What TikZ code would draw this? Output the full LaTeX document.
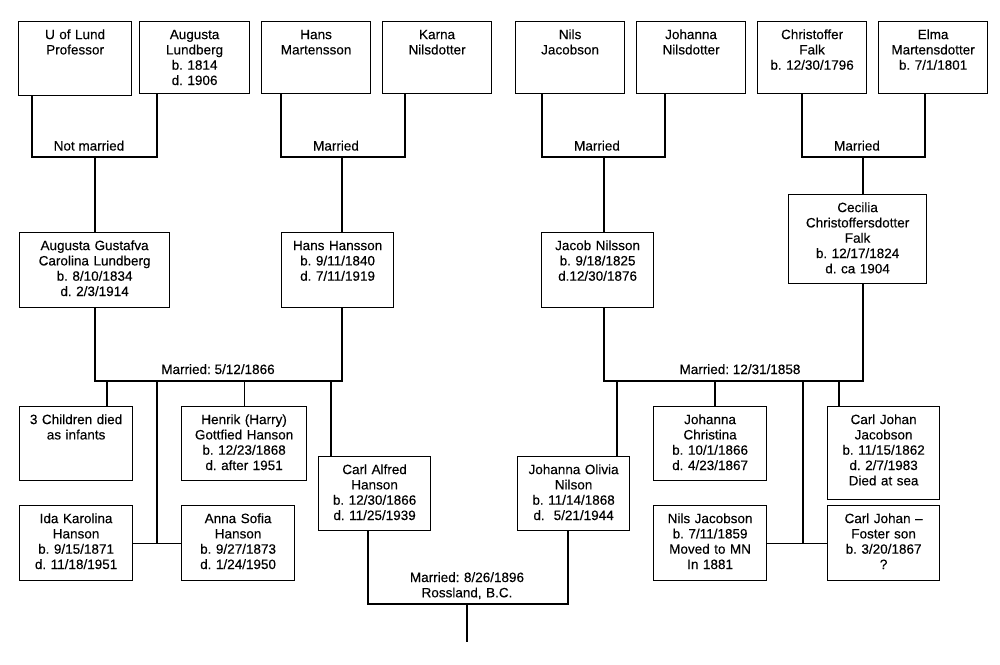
\documentclass[tikz,border=0pt]{standalone}
\usepackage{fontspec}
\setmainfont{Liberation Sans}[FakeBold=0.3]
\begin{document}
\frenchspacing
\begin{tikzpicture}[x=1pt,y=-1pt,
  pb/.style={draw, line width=1.2pt, anchor=north west, inner xsep=2pt, inner ysep=0pt, align=center, text height=17.5pt, font=\fontsize{13.5}{15.3}\selectfont},
  lbl/.style={anchor=base, inner sep=0pt, font=\fontsize{13.5}{15.3}\selectfont},
  ln/.style={line width=1.2pt}]
\useasboundingbox (0,0) rectangle (1000,664);
% top row
\node[pb, text width=109pt, text depth=56.5pt] (u) at (18,21) {U of Lund\\Professor};
\node[pb, text width=106pt, text depth=54.5pt] (al) at (139,21) {Augusta\\Lundberg\\b. 1814\\d. 1906};
\node[pb, text width=105pt, text depth=54.5pt] (hm) at (261,21) {Hans\\Martensson};
\node[pb, text width=105pt, text depth=54.5pt] (kn) at (382,21) {Karna\\Nilsdotter};
\node[pb, text width=105pt, text depth=54.5pt] (nj) at (515,21) {Nils\\Jacobson};
\node[pb, text width=105pt, text depth=54.5pt] (jn) at (636,21) {Johanna\\Nilsdotter};
\node[pb, text width=105pt, text depth=54.5pt] (cf) at (757,21) {Christoffer\\Falk\\b. 12/30/1796};
\node[pb, text width=105pt, text depth=54.5pt] (em) at (878,21) {Elma\\Martensdotter\\b. 7/1/1801};
% second row
\node[pb, text width=146pt, text depth=57.5pt] (ag) at (19,232) {Augusta Gustafva\\Carolina Lundberg\\b. 8/10/1834\\d. 2/3/1914};
\node[pb, text width=108pt, text depth=57.5pt] (hh) at (281,232) {Hans Hansson\\b. 9/11/1840\\d. 7/11/1919};
\node[pb, text width=108pt, text depth=57.5pt] (jb) at (541,232) {Jacob Nilsson\\b. 9/18/1825\\d.12/30/1876};
\node[pb, text width=134pt, text depth=71.5pt] (ce) at (788,194) {Cecilia\\Christoffersdotter\\Falk\\b. 12/17/1824\\d. ca 1904};
% children left
\node[pb, text width=109pt, text depth=56.5pt] (c3) at (19,406) {3 Children died\\as infants};
\node[pb, text width=121pt, text depth=56.5pt] (hk) at (181,406) {Henrik (Harry)\\Gottfied Hanson\\b. 12/23/1868\\d. after 1951};
\node[pb, text width=108pt, text depth=56.5pt] (ca) at (318,456) {Carl Alfred\\Hanson\\b. 12/30/1866\\d. 11/25/1939};
\node[pb, text width=109pt, text depth=57.5pt] (ida) at (19,505) {Ida Karolina\\Hanson\\b. 9/15/1871\\d. 11/18/1951};
\node[pb, text width=109pt, text depth=57.5pt] (an) at (181,505) {Anna Sofia\\Hanson\\b. 9/27/1873\\d. 1/24/1950};
% children right
\node[pb, text width=108pt, text depth=56.5pt] (jo) at (517,456) {Johanna Olivia\\Nilson\\b. 11/14/1868\\d.\ \ 5/21/1944};
\node[pb, text width=109pt, text depth=56.5pt] (jc) at (653,406) {Johanna\\Christina\\b. 10/1/1866\\d. 4/23/1867};
\node[pb, text width=108pt, text depth=75.5pt] (cj) at (827,406) {Carl Johan\\Jacobson\\b. 11/15/1862\\d. 2/7/1983\\Died at sea};
\node[pb, text width=109pt, text depth=57.5pt] (nb) at (653,505) {Nils Jacobson\\b. 7/11/1859\\Moved to MN\\In 1881};
\node[pb, text width=108pt, text depth=57.5pt] (fs) at (827,505) {Carl Johan --\\Foster son\\b. 3/20/1867\\?};
% junction coordinates
\coordinate (m1) at (95,157);
\coordinate (m2) at (342,157);
\coordinate (m3) at (604,157);
\coordinate (m4) at (863,157);
\coordinate (m5) at (218,381);
\coordinate (m6) at (740,381);
\coordinate (m7) at (467,604);
\coordinate (d1) at (107,381);
\coordinate (d2) at (157,381);
\coordinate (d4) at (331,381);
\coordinate (e1) at (617,381);
\coordinate (e2) at (715,381);
\coordinate (e3) at (803,381);
\coordinate (e4) at (839,381);
\coordinate (fin) at (467,642);
% parents connectors
\draw[ln] ([xshift=14pt]u.south west) |- (m1) -| ([xshift=18pt]al.south west);
\draw[ln] (m1) -- (m1 |- ag.north);
\draw[ln] ([xshift=20pt]hm.south west) |- (m2) -| ([xshift=23pt]kn.south west);
\draw[ln] (m2) -- (m2 |- hh.north);
\draw[ln] ([xshift=27pt]nj.south west) |- (m3) -| ([xshift=29pt]jn.south west);
\draw[ln] (m3) -- (m3 |- jb.north);
\draw[ln] ([xshift=45pt]cf.south west) |- (m4) -| ([xshift=47pt]em.south west);
\draw[ln] (m4) -- (m4 |- ce.north);
% marriage 1
\draw[ln] (m1 |- ag.south) |- (m5) -| (m2 |- hh.south);
\draw[ln] (d1) -- (d1 |- c3.north);
\draw[ln] (d2) -- (d2 |- ida.east);
\draw[ln] (ida.east) -- (an.west);
\draw[ln] (m5 -| hk.north) -- (hk.north);
\draw[ln] (d4) -- (d4 |- ca.north);
% marriage 2
\draw[ln] (m3 |- jb.south) |- (m6) -| (m4 |- ce.south);
\draw[ln] (e1) -- (e1 |- jo.north);
\draw[ln] (e2) -- (e2 |- jc.north);
\draw[ln] (e3) -- (e3 |- nb.east);
\draw[ln] (nb.east) -- (fs.west);
\draw[ln] (e4) -- (e4 |- cj.north);
% final marriage
\draw[ln] ([xshift=50pt]ca.south west) |- (m7) -| ([xshift=51pt]jo.south west);
\draw[ln] (m7) -- (fin);
% labels
\node[lbl] (t1) at (89,150.5) {Not married};
\node[lbl] (t2) at (336,150.5) {Married};
\node[lbl] (t3) at (597,150.5) {Married};
\node[lbl] (t4) at (857,150.5) {Married};
\node[lbl] (t5) at (218,374) {Married: 5/12/1866};
\node[lbl] (t6) at (740,374) {Married: 12/31/1858};
\node[lbl, text width=160pt, align=center] (t7) at (467,582) {Married: 8/26/1896\\Rossland, B.C.};
\end{tikzpicture}
\end{document}
